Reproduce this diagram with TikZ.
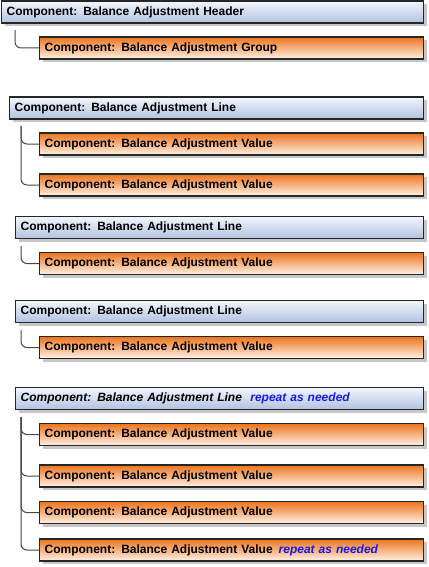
\documentclass[tikz,border=0pt]{standalone}
\usepackage{fontspec}
\setmainfont{Liberation Sans}
\usetikzlibrary{shadows}

\definecolor{hdrtop}{RGB}{242,246,252}
\definecolor{hdrbot}{RGB}{176,194,224}
\definecolor{valtop}{RGB}{236,116,28}
\definecolor{valbot}{RGB}{255,242,232}
\definecolor{repblue}{RGB}{24,24,236}
\definecolor{connline}{RGB}{72,72,72}

\tikzset{every picture/.style={line width=0.75pt}}
\tikzset{
  compbox/.style={draw=black!85, line width=1.3pt, anchor=west, minimum height=22pt,
    inner xsep=5pt, inner ysep=0pt, align=left, font=\bfseries\fontsize{12}{14}\selectfont,
    drop shadow={shadow xshift=3pt, shadow yshift=-3pt, fill=black!22, opacity=1}},
  hdrbox/.style={compbox, top color=hdrtop, bottom color=hdrbot},
  valbox/.style={compbox, top color=valtop, bottom color=valbot, text width=374pt},
  conn/.style={draw=connline, line width=1pt, rounded corners=6pt}
}

\begin{document}
\begin{tikzpicture}[x=1pt,y=-1pt]
    \useasboundingbox (0,0) rectangle (428,567);

    % Header and group
    \node [hdrbox, text width=412pt] (hdr) at (1,12) {Component: Balance Adjustment Header};
    \node [valbox] (grp) at (39,48) {Component: Balance Adjustment Group};
    \coordinate (thdr) at (15,30);
    \draw [conn] (thdr) |- (grp.west);

    % Line 1
    \node [hdrbox, text width=404pt] (lineA) at (9,108) {Component: Balance Adjustment Line};
    \node [valbox] (valA1) at (39,144) {Component: Balance Adjustment Value};
    \node [valbox] (valA2) at (39,185) {Component: Balance Adjustment Value};
    \coordinate (tlineA) at (21,126);
    \draw [conn] (tlineA) |- (valA1.west);
    \draw [conn] (tlineA) |- (valA2.west);

    % Line 2
    \node [hdrbox, text width=398pt] (lineB) at (15,227.5) {Component: Balance Adjustment Line};
    \node [valbox] (valB1) at (39,263.5) {Component: Balance Adjustment Value};
    \coordinate (tlineB) at (21,246);
    \draw [conn] (tlineB) |- (valB1.west);

    % Line 3
    \node [hdrbox, text width=398pt] (lineC) at (15,311.5) {Component: Balance Adjustment Line};
    \node [valbox] (valC1) at (39,347.5) {Component: Balance Adjustment Value};
    \coordinate (tlineC) at (21,330);
    \draw [conn] (tlineC) |- (valC1.west);

    % Line 4 (repeat as needed)
    \node [hdrbox, text width=398pt] (lineD) at (15,398.5) {\itshape Component: Balance Adjustment Line\hspace{0.7em}{\color{repblue}repeat as needed}};
    \node [valbox] (valD1) at (39,434.5) {Component: Balance Adjustment Value};
    \node [valbox] (valD2) at (39,476) {Component: Balance Adjustment Value};
    \node [valbox] (valD3) at (39,512.5) {Component: Balance Adjustment Value};
    \node [valbox] (valD4) at (39,550) {Component: Balance Adjustment Value\hspace{0.5em}{\color{repblue}\itshape repeat as needed}};
    \coordinate (tlineD) at (21,417);
    \draw [conn] (tlineD) |- (valD1.west);
    \draw [conn] (tlineD) |- (valD2.west);
    \draw [conn] (tlineD) |- (valD3.west);
    \draw [conn] (tlineD) |- (valD4.west);
\end{tikzpicture}
\end{document}
